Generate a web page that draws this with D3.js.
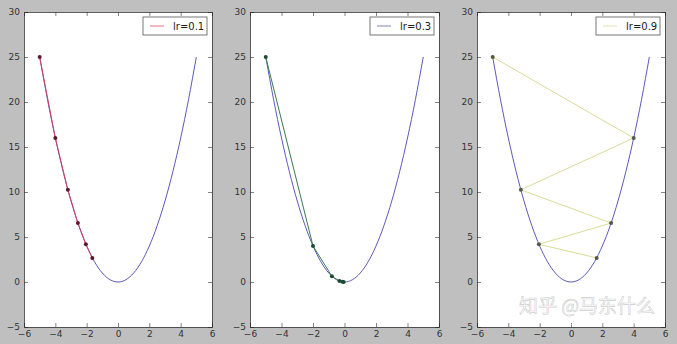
<!DOCTYPE html>
<html>
<head>
<meta charset="utf-8">
<script src="https://cdn.jsdelivr.net/npm/d3@7"></script>
<style>
body{margin:0;background:#bfbfbf;}
text{font-family:"DejaVu Sans",sans-serif;}
</style>
</head>
<body>
<svg id="fig" width="677" height="344"></svg>
<script>
// y = x^2 sampled points
var curveX=[-5,-4.5,-4,-3.5,-3,-2.5,-2,-1.5,-1,-0.5,0,0.5,1,1.5,2,2.5,3,3.5,4,4.5,5];
var curveY=[25,20.25,16,12.25,9,6.25,4,2.25,1,0.25,0,0.25,1,2.25,4,6.25,9,12.25,16,20.25,25];
// gradient descent steps
var lrLabels=["lr=0.1","lr=0.3","lr=0.9"];
var stepX=[
  [-5,-4,-3.2,-2.56,-2.05,-1.64],
  [-5,-2,-0.8,-0.32,-0.13,-0.05],
  [-5,4,-3.2,2.56,-2.05,1.64]
];
var stepY=[
  [25,16,10.24,6.55,4.19,2.68],
  [25,4,0.64,0.1,0.02,0.0],
  [25,16,10.24,6.55,4.19,2.68]
];
var xTicks=[-6,-4,-2,0,2,4,6];
var yTicks=[-5,0,5,10,15,20,25,30];

// 子图位置
var PANELS=[{x0:24,x1:212},{x0:250,x1:439},{x0:477,x1:665}];
var TOP=12,BOTTOM=327;
var LINECOLOR=["#d0406a","#3a7a50","#d8dc98"];
var MARKCOLOR=["#5a1a2a","#1e4a34","#555848"];
var LEGENDCOLOR=["#e07080","#8088b0","#dfe0b0"];
var CURVECOLOR="#5a5ab8";

var svg=d3.select("#fig");
var y=d3.scaleLinear().domain([-5,30]).range([BOTTOM,TOP]);
var minus=function(d){return d<0?"\u2212"+(-d):""+d;};

for(var p=0;p<3;p++){
  var P=PANELS[p];
  var x=d3.scaleLinear().domain([-6,6]).range([P.x0,P.x1]);
  var g=svg.append("g");
  g.append("rect").attr("x",P.x0).attr("y",TOP).attr("width",P.x1-P.x0).attr("height",BOTTOM-TOP).attr("fill","#fff");

  var line=d3.line().x(function(d){return x(d[0]);}).y(function(d){return y(d[1]);});
  var clipId="clip"+p;
  g.append("clipPath").attr("id",clipId).append("rect")
    .attr("x",P.x0).attr("y",TOP).attr("width",P.x1-P.x0).attr("height",BOTTOM-TOP);
  var plot=g.append("g").attr("clip-path","url(#"+clipId+")");

  plot.append("path")
    .datum(d3.zip(curveX,curveY))
    .attr("d",line.curve(d3.curveNatural))
    .attr("fill","none").attr("stroke",CURVECOLOR).attr("stroke-width",1);

  var pts=d3.zip(stepX[p],stepY[p]);
  plot.append("path")
    .datum(pts)
    .attr("d",d3.line().x(function(d){return x(d[0]);}).y(function(d){return y(d[1]);}))
    .attr("fill","none").attr("stroke",LINECOLOR[p]).attr("stroke-width",1);
  plot.selectAll("circle").data(pts).enter().append("circle")
    .attr("cx",function(d){return x(d[0]);}).attr("cy",function(d){return y(d[1]);})
    .attr("r",2).attr("fill",MARKCOLOR[p]);

  // 坐标轴 (ticks inside on all four sides)
  var ax=g.append("g").attr("transform","translate(0,"+BOTTOM+")")
    .call(d3.axisBottom(x).tickValues(xTicks).tickSize(-4).tickPadding(4).tickFormat(minus));
  var axT=g.append("g").attr("transform","translate(0,"+TOP+")")
    .call(d3.axisTop(x).tickValues(xTicks).tickSize(-4).tickFormat(""));
  var ay=g.append("g").attr("transform","translate("+P.x0+",0)")
    .call(d3.axisLeft(y).tickValues(yTicks).tickSize(-4).tickPadding(4).tickFormat(minus));
  var ayR=g.append("g").attr("transform","translate("+P.x1+",0)")
    .call(d3.axisRight(y).tickValues(yTicks).tickSize(-4).tickFormat(""));
  [ax,axT,ay,ayR].forEach(function(a){
    a.select(".domain").attr("stroke","#333").attr("stroke-width",0.8);
    a.selectAll(".tick line").attr("stroke","#333").attr("stroke-width",0.6);
    a.selectAll(".tick text").attr("fill","#333").style("font-size","9px");
  });

  // 图例
  var lx=P.x1-69,ly=17;
  g.append("rect").attr("x",lx).attr("y",ly).attr("width",64).attr("height",18)
    .attr("fill","#fff").attr("stroke","#555").attr("stroke-width",0.8);
  g.append("line").attr("x1",lx+7).attr("x2",lx+21).attr("y1",ly+9).attr("y2",ly+9)
    .attr("stroke",LEGENDCOLOR[p]).attr("stroke-width",1);
  g.append("text").attr("x",lx+30).attr("y",ly+13).text(lrLabels[p])
    .attr("fill","#222").style("font-size","10px");
}

// 水印
svg.append("text").attr("x",587).attr("y",313).attr("text-anchor","middle")
  .text("知乎 @马东什么")
  .attr("fill","#fff").attr("stroke","#999").attr("stroke-width",0.6).attr("stroke-opacity",0.5)
  .style("font-family","'Noto Sans CJK SC',sans-serif").style("font-size","19px");
svg.append("text").attr("x",660).attr("y",325).attr("text-anchor","end")
  .text("https://blog.csdn.net/zhuliting")
  .attr("fill","#fff").attr("fill-opacity",0.5).style("font-size","8px");
</script>
</body>
</html>
